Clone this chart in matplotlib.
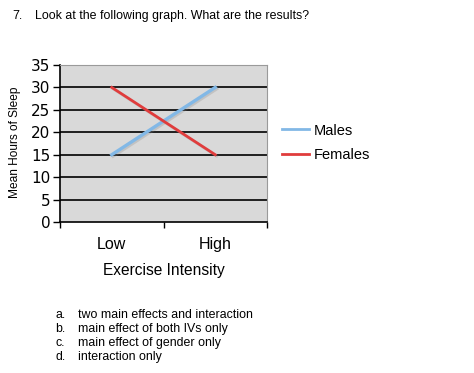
import matplotlib
matplotlib.use("Agg")
import matplotlib.pyplot as plt
import matplotlib.patheffects as pe

categories = ["Low", "High"]
males = [15, 30]
females = [30, 15]
yticks = [0, 5, 10, 15, 20, 25, 30, 35]
options = ["two main effects and interaction",
           "main effect of both IVs only",
           "main effect of gender only",
           "interaction only"]
letters = ["a.", "b.", "c.", "d."]

plt.rcParams['font.family'] = ['Liberation Sans', 'DejaVu Sans']

W, H = 474, 373
fig = plt.figure(figsize=(W / 100, H / 100), dpi=100)
ax = fig.add_axes([60 / W, 1 - 222 / H, (267 - 60) / W, (222 - 65) / H])
ax.set_facecolor('#d9d9d9')

x = list(range(len(categories)))
shadow = [pe.SimpleLineShadow(offset=(1, -1), alpha=0.25, shadow_color='gray'), pe.Normal()]
ax.plot(x, males, color='#82b8e6', lw=2.4, label='Males', path_effects=shadow, zorder=3)
ax.plot(x, females, color='#e03c3c', lw=2.0, label='Females', path_effects=shadow, zorder=3)

ax.set_xlim(-0.5, len(categories) - 0.5)
ax.set_ylim(0, 35)
ax.set_yticks(yticks)
ax.set_yticklabels([str(v) for v in yticks], fontsize=11, family='DejaVu Sans')
for v in yticks[1:-1]:
    ax.axhline(v, color='black', lw=1.2, zorder=1)

ax.set_xticks([-0.5, 0.5, 1.5])
ax.set_xticklabels([])
ax.set_xticks(x, minor=True)
ax.set_xticklabels(categories, minor=True, fontsize=11.5)
ax.tick_params(axis='x', which='minor', length=0, pad=11)
ax.tick_params(axis='x', which='major', length=4, width=1, direction='out')
ax.tick_params(axis='y', length=5, width=1, direction='out', pad=2)

for s in ['top', 'right']:
    ax.spines[s].set_color('#9a9a9a')
for s in ['left', 'bottom']:
    ax.spines[s].set_color('black')
    ax.spines[s].set_linewidth(1.2)

ax.set_xlabel("Exercise Intensity", fontsize=11.2, labelpad=8)
fig.text(15 / W, 1 - 142 / H, "Mean Hours of Sleep", fontsize=8.6,
         rotation=90, ha='center', va='center')

fig.legend(loc='center left', bbox_to_anchor=(269 / W, 1 - 143 / H), frameon=False,
           fontsize=10.5, handlelength=1.85, handletextpad=0.35, labelspacing=0.75)
for l in fig.legends[0].get_lines():
    l.set_linewidth(2.0)
    l.set_path_effects([])

fig.text(12 / W, 1 - 16 / H, "7.", fontsize=8.9, va='center')
fig.text(35 / W, 1 - 16 / H, "Look at the following graph. What are the results?", fontsize=8.9, va='center')

ys = [315, 329, 343, 357]
for l, t, yy in zip(letters, options, ys):
    fig.text(55 / W, 1 - yy / H, l, fontsize=8.9, va='center')
    fig.text(78 / W, 1 - yy / H, t, fontsize=8.9, va='center')

fig.savefig("out.png", dpi=100)
